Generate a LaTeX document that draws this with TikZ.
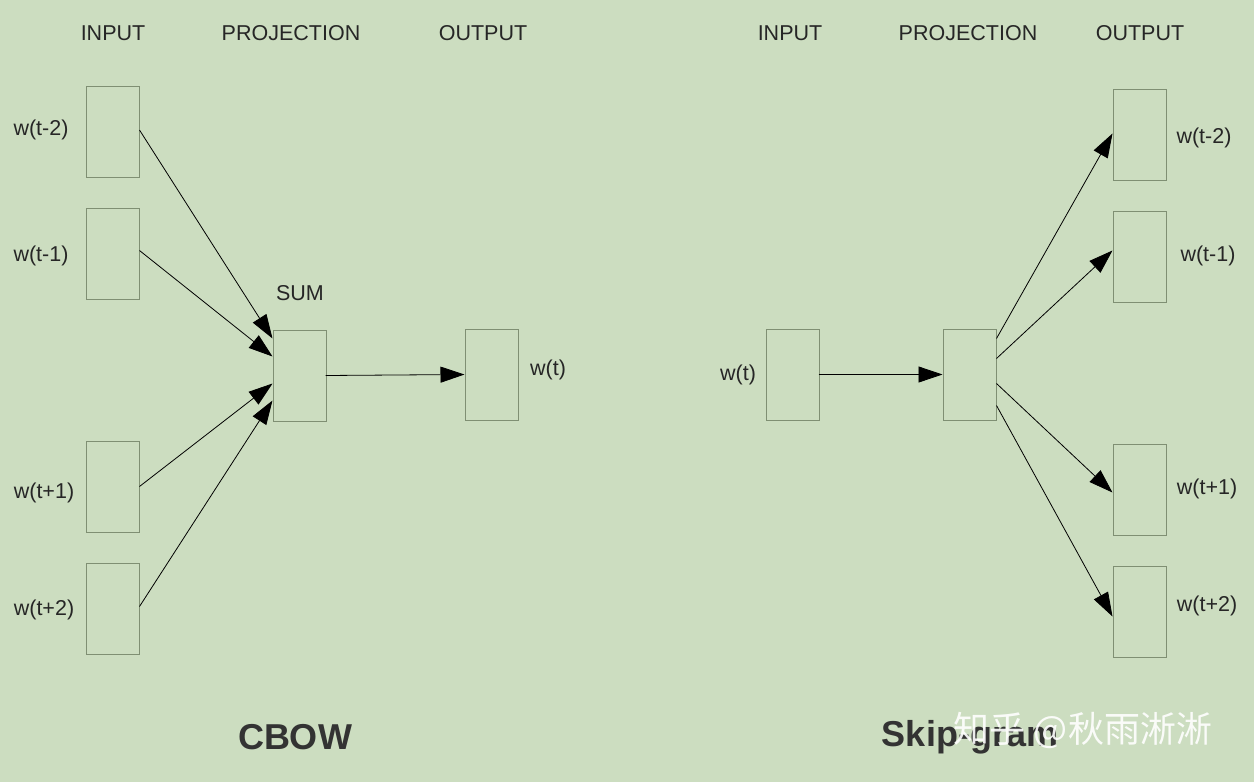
\documentclass[tikz,border=0pt]{standalone}
\usepackage{fontspec}
\setmainfont{Liberation Sans}
\newfontfamily\cjkf{Noto Sans CJK SC}
\usetikzlibrary{arrows.meta}
\definecolor{bg}{HTML}{CCDDC0}
\definecolor{bx}{HTML}{7F8F73}
\begin{document}
\begin{tikzpicture}[x=1pt,y=-1pt,
  box/.style={draw=bx,line width=1pt,minimum width=53pt,minimum height=91pt,inner sep=0pt},
  lbl/.style={font=\fontsize{21.5}{26}\selectfont,text=black!85},
  arr/.style={line width=0.8pt,-{Triangle[length=24pt,width=16pt]}},
  ttl/.style={font=\fontsize{36}{42}\selectfont\bfseries,text=black!80}]
\fill[bg] (0,0) rectangle (1254,782);
\useasboundingbox (0,0) rectangle (1254,782);
% headers
\node[lbl] (h1) at (113,33) {INPUT};
\node[lbl] (h2) at (291,33) {PROJECTION};
\node[lbl] (h3) at (483,33) {OUTPUT};
\node[lbl] (h4) at (790,33) {INPUT};
\node[lbl] (h5) at (968,33) {PROJECTION};
\node[lbl] (h6) at (1140,33) {OUTPUT};
% CBOW
\node[box] (a1) at (112.5,132) {};
\node[box] (a2) at (112.5,253.5) {};
\node[box] (a3) at (112.5,486.5) {};
\node[box] (a4) at (112.5,608.5) {};
\node[box] (sum) at (299.5,375.5) {};
\node[box] (out) at (491.5,374.5) {};
\node[lbl] (l1) at (41,130) {w(t-2)};
\node[lbl] (l2) at (41,256) {w(t-1)};
\node[lbl] (l3) at (44,493) {w(t+1)};
\node[lbl] (l4) at (44,610) {w(t+2)};
\node[lbl] (ls) at (300,293) {SUM};
\node[lbl] (lo) at (548,370) {w(t)};
\draw[arr] ([yshift=2pt]a1.east) -- ([yshift=37pt]sum.west);
\draw[arr] ([yshift=3pt]a2.east) -- ([yshift=19pt]sum.west);
\draw[arr] (a3.east) -- ([yshift=-8pt]sum.west);
\draw[arr] ([yshift=2pt]a4.east) -- ([yshift=-25pt]sum.west);
\draw[arr] ([xshift=-1pt]sum.east) -- (out.west);
% Skip-gram
\node[box] (win) at (792.5,374.5) {};
\node[box] (p) at (969.5,374.5) {};
\node[box] (b1) at (1139.5,134.5) {};
\node[box] (b2) at (1139.5,256.5) {};
\node[box] (b3) at (1139.5,489.5) {};
\node[box] (b4) at (1139.5,611.5) {};
\node[lbl] (lw) at (738,375) {w(t)};
\node[lbl] (r1) at (1204,138) {w(t-2)};
\node[lbl] (r2) at (1208,256) {w(t-1)};
\node[lbl] (r3) at (1207,489) {w(t+1)};
\node[lbl] (r4) at (1207,606) {w(t+2)};
\draw[arr] ([xshift=-1pt]win.east) -- (p.west);
\draw[arr] ([yshift=36pt]p.east) -- ([yshift=1pt]b1.west);
\draw[arr] ([yshift=16pt]p.east) -- ([yshift=6pt]b2.west);
\draw[arr] ([yshift=-9pt]p.east) -- ([yshift=-3pt]b3.west);
\draw[arr] ([yshift=-31pt]p.east) -- ([yshift=-5pt]b4.west);
% titles
\node[ttl] (t1) at (295,737) {CBOW};
\node[ttl] (t2) at (970,737) {Skip-gram};
\node[font=\cjkf\fontsize{36}{42}\selectfont,text=white,opacity=0.9] (wm) at (1083,730) {知乎 @秋雨淅淅};
\end{tikzpicture}
\end{document}
